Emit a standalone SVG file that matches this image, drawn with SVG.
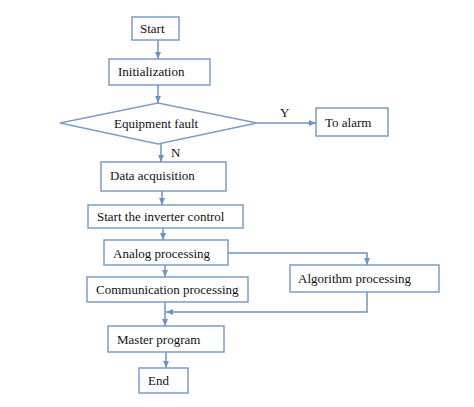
<svg xmlns="http://www.w3.org/2000/svg" width="474" height="407" viewBox="0 0 474 407">
<defs>
<marker id="ah" markerWidth="7" markerHeight="6" refX="7" refY="3" orient="auto" markerUnits="userSpaceOnUse">
<path d="M0,0 L7,3 L0,6 Z" fill="#6d94c4"/>
</marker>
</defs>
<style>
.box{fill:#fff;stroke:#7b9dc7;stroke-width:1.5}
.t{font-family:"Liberation Serif","Times New Roman",serif;font-size:13px;fill:#111}
.c{fill:none;stroke:#6d94c4;stroke-width:1.5;marker-end:url(#ah)}
</style>
<rect width="474" height="407" fill="#fff"/>
<g id="connectors">
<line class="c" x1="158" y1="40" x2="158" y2="59"/>
<line class="c" x1="158" y1="85" x2="158" y2="103"/>
<line class="c" x1="257" y1="123" x2="316" y2="123"/>
<line class="c" x1="161" y1="144" x2="161" y2="162"/>
<line class="c" x1="162" y1="191" x2="162" y2="205"/>
<line class="c" x1="163" y1="228" x2="163" y2="240"/>
<line class="c" x1="165" y1="265" x2="165" y2="277"/>
<polyline class="c" points="228,253 367,253 367,265"/>
<line class="c" x1="165" y1="302" x2="165" y2="326"/>
<polyline class="c" points="367,292 367,312 166,312"/>
<line class="c" x1="166" y1="352" x2="166" y2="368"/>
</g>
<g id="start"><rect class="box" x="132" y="17" width="47" height="23"/><text class="t" x="140" y="33">Start</text></g>
<g id="init"><rect class="box" x="109" y="59" width="101" height="26"/><text class="t" x="118" y="76">Initialization</text></g>
<g id="fault"><polygon class="box" points="60,123 158,103 257,123 158,144"/><text class="t" x="114" y="128">Equipment fault</text></g>
<g id="alarm"><rect class="box" x="316" y="108" width="72" height="28"/><text class="t" x="325" y="127">To alarm</text></g>
<g id="labels"><text class="t" x="280" y="117">Y</text><text class="t" x="171" y="157">N</text></g>
<g id="data"><rect class="box" x="101" y="162" width="125" height="29"/><text class="t" x="110" y="180">Data acquisition</text></g>
<g id="inverter"><rect class="box" x="88" y="205" width="155" height="23"/><text class="t" x="97" y="221">Start the inverter control</text></g>
<g id="analog"><rect class="box" x="104" y="240" width="124" height="25"/><text class="t" x="113" y="258">Analog processing</text></g>
<g id="algorithm"><rect class="box" x="290" y="265" width="149" height="27"/><text class="t" x="298" y="283">Algorithm processing</text></g>
<g id="comm"><rect class="box" x="87" y="277" width="161" height="25"/><text class="t" x="96" y="294">Communication processing</text></g>
<g id="master"><rect class="box" x="108" y="326" width="116" height="26"/><text class="t" x="117" y="344">Master program</text></g>
<g id="end"><rect class="box" x="139" y="368" width="49" height="25"/><text class="t" x="148" y="385">End</text></g>
</svg>
